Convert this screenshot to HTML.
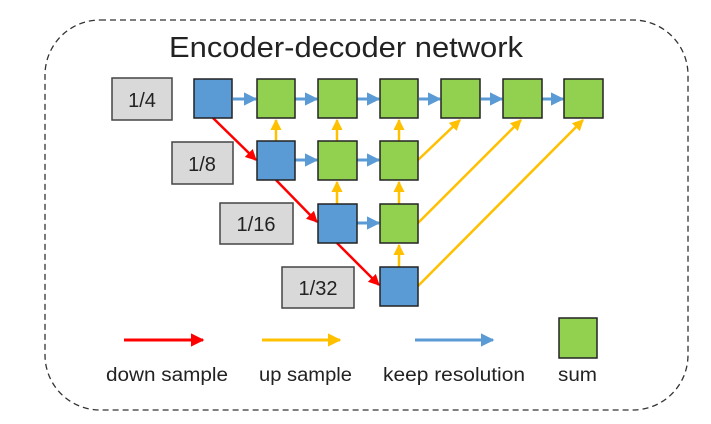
<!DOCTYPE html>
<html><head><meta charset="utf-8"><style>body{margin:0;background:#fff}svg{display:block}</style></head><body>
<svg width="711" height="424" viewBox="0 0 711 424" xmlns="http://www.w3.org/2000/svg" font-family="Liberation Sans, sans-serif">
<defs>
<marker id="r" viewBox="0 0 10 10" refX="9" refY="5" markerWidth="4.5" markerHeight="4.5" orient="auto" markerUnits="strokeWidth"><path d="M0,0L10,5L0,10z" fill="#ff0000"/></marker>
<marker id="y" viewBox="0 0 10 10" refX="9" refY="5" markerWidth="4.5" markerHeight="4.5" orient="auto" markerUnits="strokeWidth"><path d="M0,0L10,5L0,10z" fill="#ffc000"/></marker>
<marker id="b" viewBox="0 0 10 10" refX="9" refY="5" markerWidth="4.5" markerHeight="4.5" orient="auto" markerUnits="strokeWidth"><path d="M0,0L10,5L0,10z" fill="#5b9bd5"/></marker>
</defs>
<rect x="45" y="20" width="643" height="390" rx="55" fill="none" stroke="#333" stroke-width="1.3" stroke-dasharray="6,4"/>
<text x="169" y="57" font-size="29" fill="#222" textLength="354" lengthAdjust="spacingAndGlyphs">Encoder-decoder network</text>
<g stroke="#444" stroke-width="1.5" fill="#d9d9d9">
<rect x="112" y="78" width="60" height="42"/>
<rect x="172" y="142" width="61" height="42"/>
<rect x="220" y="203" width="73" height="41"/>
<rect x="282" y="267" width="72" height="41"/>
</g>
<g font-size="20" fill="#222" text-anchor="middle">
<text x="142" y="107">1/4</text><text x="202" y="171">1/8</text><text x="256" y="231">1/16</text><text x="318" y="295">1/32</text>
</g>
<g stroke="#5b9bd5" stroke-width="3" marker-end="url(#b)">
<line x1="233" y1="99" x2="256" y2="99"/><line x1="295" y1="99" x2="317" y2="99"/><line x1="357" y1="99" x2="379" y2="99"/><line x1="419" y1="99" x2="440" y2="99"/><line x1="481" y1="99" x2="502" y2="99"/><line x1="542" y1="99" x2="563" y2="99"/>
<line x1="295" y1="160" x2="317" y2="160"/><line x1="357" y1="160" x2="379" y2="160"/>
<line x1="357" y1="223" x2="379" y2="223"/>
</g>
<g stroke="#ff0000" stroke-width="2.5" marker-end="url(#r)">
<line x1="213" y1="118" x2="256" y2="160"/><line x1="276" y1="180" x2="317" y2="222"/><line x1="337" y1="243" x2="379" y2="285"/>
</g>
<g stroke="#ffc000" stroke-width="2.5" marker-end="url(#y)">
<line x1="276" y1="141" x2="276" y2="120"/><line x1="337" y1="141" x2="337" y2="120"/><line x1="399" y1="141" x2="399" y2="120"/>
<line x1="337" y1="204" x2="337" y2="182"/><line x1="399" y1="204" x2="399" y2="182"/>
<line x1="399" y1="267" x2="399" y2="245"/>
<line x1="418" y1="160" x2="460" y2="120"/><line x1="418" y1="223" x2="521" y2="120"/><line x1="418" y1="286" x2="583" y2="120"/>
</g>
<g stroke="#222" stroke-width="1.5">
<rect x="194" y="79" width="38" height="39" fill="#5b9bd5"/>
<g fill="#92d050">
<rect x="257" y="79" width="38" height="39"/><rect x="318" y="79" width="39" height="39"/><rect x="380" y="79" width="38" height="39"/><rect x="441" y="79" width="39" height="39"/><rect x="503" y="79" width="39" height="39"/><rect x="564" y="79" width="39" height="39"/>
<rect x="318" y="141" width="39" height="39"/><rect x="380" y="141" width="38" height="39"/>
<rect x="380" y="204" width="38" height="39"/>
<rect x="559" y="318" width="38" height="40"/>
</g>
<g fill="#5b9bd5">
<rect x="257" y="141" width="38" height="39"/><rect x="318" y="204" width="39" height="39"/><rect x="380" y="267" width="38" height="39"/>
</g>
</g>
<line x1="124" y1="340" x2="203" y2="340" stroke="#ff0000" stroke-width="3" marker-end="url(#r)"/>
<line x1="262" y1="340" x2="340" y2="340" stroke="#ffc000" stroke-width="3" marker-end="url(#y)"/>
<line x1="415" y1="340" x2="493" y2="340" stroke="#5b9bd5" stroke-width="3" marker-end="url(#b)"/>
<g font-size="19" fill="#222">
<text x="106" y="381" textLength="122" lengthAdjust="spacingAndGlyphs">down sample</text>
<text x="259" y="381" textLength="93" lengthAdjust="spacingAndGlyphs">up sample</text>
<text x="383" y="381" textLength="142" lengthAdjust="spacingAndGlyphs">keep resolution</text>
<text x="558" y="381" textLength="39" lengthAdjust="spacingAndGlyphs">sum</text>
</g>
</svg>
</body></html>
